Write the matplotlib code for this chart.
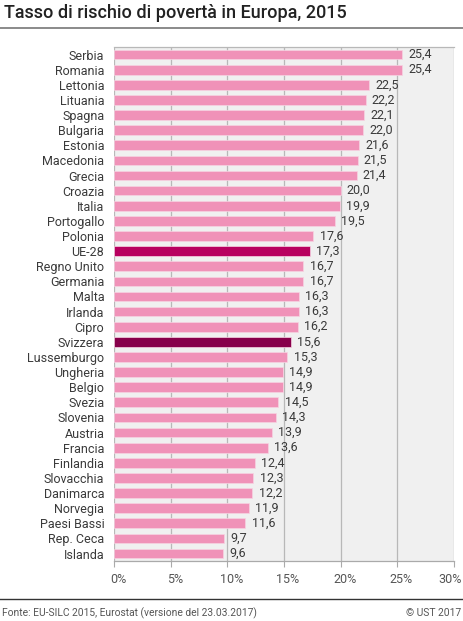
import matplotlib
matplotlib.use("Agg")
import matplotlib.pyplot as plt
import matplotlib.transforms as mtransforms

countries = ["Serbia", "Romania", "Lettonia", "Lituania", "Spagna", "Bulgaria", "Estonia",
             "Macedonia", "Grecia", "Croazia", "Italia", "Portogallo", "Polonia", "UE-28",
             "Regno Unito", "Germania", "Malta", "Irlanda", "Cipro", "Svizzera", "Lussemburgo",
             "Ungheria", "Belgio", "Svezia", "Slovenia", "Austria", "Francia", "Finlandia",
             "Slovacchia", "Danimarca", "Norvegia", "Paesi Bassi", "Rep. Ceca", "Islanda"]
values = [25.4, 25.4, 22.5, 22.2, 22.1, 22.0, 21.6, 21.5, 21.4, 20.0, 19.9, 19.5, 17.6, 17.3,
          16.7, 16.7, 16.3, 16.3, 16.2, 15.6, 15.3, 14.9, 14.9, 14.5, 14.3, 13.9, 13.6, 12.4,
          12.3, 12.2, 11.9, 11.6, 9.7, 9.6]
xticks = [0, 5, 10, 15, 20, 25, 30]
xticklabels = ["0%", "5%", "10%", "15%", "20%", "25%", "30%"]

plt.rcParams['font.family'] = ['Roboto', 'DejaVu Sans']
W, H = 463, 621
fig = plt.figure(figsize=(W/100, H/100), dpi=100)
ax = fig.add_axes([114/W, 1-560.5/H, (454-114)/W, (560.5-47)/H])
ax.set_facecolor("#f0f0f0")

colors = []
for c in countries:
    if c == "UE-28":
        colors.append("#b8005f")
    elif c == "Svizzera":
        colors.append("#87004b")
    else:
        colors.append("#f092b8")

txtc = "#3a3a3a"
ypos = list(range(len(countries)))
ax.barh(ypos, values, height=0.64, color=colors, edgecolor="#f7d3e2", linewidth=0.5, zorder=3)
for y, v in zip(ypos, values):
    ax.annotate(f"{v:.1f}".replace(".", ","), (v, y), xytext=(4.5, 0),
                textcoords="offset points", va="center", ha="left",
                fontsize=9, color=txtc, zorder=4)

ax.set_ylim(len(countries) - 0.54, -0.5)
ax.set_xlim(0, 30)
ax.set_yticks(ypos)
ax.set_yticklabels(countries, fontsize=9, color=txtc)
ax.set_xticks(xticks)
ax.set_xticklabels(xticklabels, fontsize=9, color="#555555")
ax.tick_params(axis="y", length=0, pad=7)
ax.tick_params(axis="x", length=4, color="#aaaaaa", pad=5)
# shift x tick labels slightly right, last one right-aligned inside figure
for i, lab in enumerate(ax.get_xticklabels()):
    if i == len(xticks) - 1:
        lab.set_horizontalalignment("right")
        lab.set_transform(lab.get_transform() + mtransforms.ScaledTranslation(8/100, 0, fig.dpi_scale_trans))
    else:
        lab.set_transform(lab.get_transform() + mtransforms.ScaledTranslation(4/100, 0, fig.dpi_scale_trans))
ax.grid(axis="x", color="#b8b8b8", linewidth=0.9, zorder=1)
for s in ["right", "left"]:
    ax.spines[s].set_visible(False)
ax.spines["top"].set_color("#b8b8b8")
ax.spines["top"].set_linewidth(0.9)
ax.spines["bottom"].set_color("#aaaaaa")
ax.spines["bottom"].set_linewidth(0.9)

fig.text(4/W, 1-13/H, "Tasso di rischio di povertà in Europa, 2015", fontsize=13,
         fontweight="medium", color="#222222", va="center", ha="left")
fig.add_artist(plt.Line2D([0, 1], [1-28/H, 1-28/H], color="#777777", linewidth=1.2))
fig.add_artist(plt.Line2D([0, 1], [1-599/H, 1-599/H], color="#333333", linewidth=1.0))
fig.text(2/W, 1-613/H, "Fonte: EU-SILC 2015, Eurostat (versione del 23.03.2017)", fontsize=7.4,
         color="#555555", va="center", ha="left")
fig.text(461/W, 1-613/H, "© UST 2017", fontsize=7.4, color="#555555", va="center", ha="right")

fig.savefig("out.png", dpi=100, facecolor="white")
